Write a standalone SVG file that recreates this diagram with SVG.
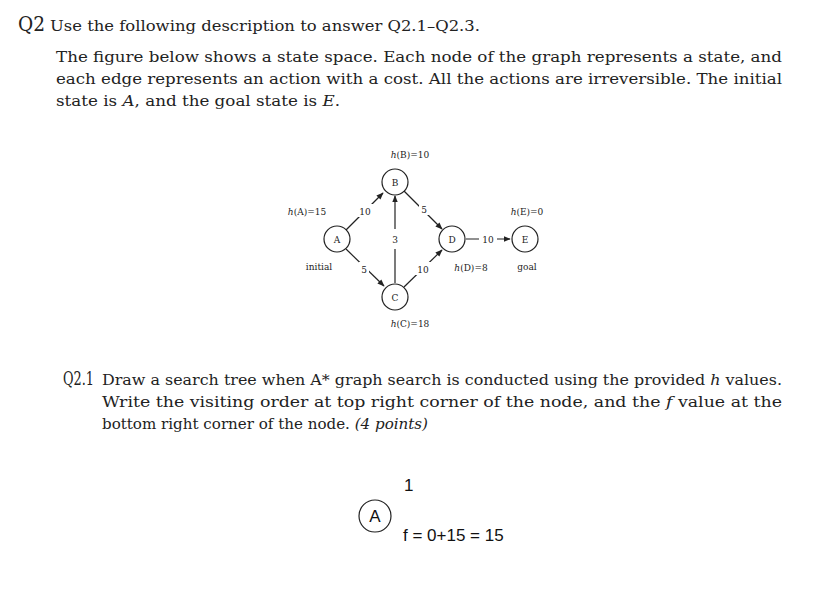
<svg xmlns="http://www.w3.org/2000/svg" width="837" height="593" viewBox="0 0 837 593">
<defs>
<marker id="ar" viewBox="0 0 10 10" refX="9" refY="5" markerWidth="6" markerHeight="6" orient="auto"><path d="M0,1 L10,5 L0,9 Z" fill="#222"/></marker>
<style>
.t{font-family:"DejaVu Serif",serif;font-size:15px;fill:#222}
.s{font-family:"DejaVu Serif",serif;font-size:9px;fill:#222}
.n{fill:none;stroke:#222;stroke-width:1.2}
.e{stroke:#222;stroke-width:1.2;fill:none}
.lb{fill:#fff}
.h{font-family:"Liberation Sans",sans-serif;font-size:17px;fill:#111}
</style>
</defs>
<rect width="837" height="593" fill="#fff"/>
<text x="18" y="31" class="t" style="font-size:20px" textLength="27" lengthAdjust="spacingAndGlyphs">Q2</text>
<text x="50" y="31" class="t" textLength="430" lengthAdjust="spacingAndGlyphs">Use the following description to answer Q2.1–Q2.3.</text>
<text x="56" y="62" class="t" textLength="726" lengthAdjust="spacingAndGlyphs">The figure below shows a state space.  Each node of the graph represents a state, and</text>
<text x="56" y="84" class="t" textLength="726" lengthAdjust="spacingAndGlyphs">each edge represents an action with a cost.  All the actions are irreversible.  The initial</text>
<text x="56" y="106" class="t" textLength="284" lengthAdjust="spacingAndGlyphs">state is <tspan font-style="italic">A</tspan>, and the goal state is <tspan font-style="italic">E</tspan>.</text>
<g id="connectors">
<line class="e" x1="346" y1="230" x2="383" y2="193" marker-end="url(#ar)"/>
<line class="e" x1="346" y1="249" x2="384" y2="286" marker-end="url(#ar)"/>
<line class="e" x1="395" y1="283" x2="395" y2="196" marker-end="url(#ar)"/>
<line class="e" x1="404" y1="191" x2="442" y2="229" marker-end="url(#ar)"/>
<line class="e" x1="404" y1="287" x2="442" y2="250" marker-end="url(#ar)"/>
<line class="e" x1="466" y1="239" x2="510" y2="239" marker-end="url(#ar)"/>
<rect class="lb" x="357" y="204" width="16" height="13"/><text x="365" y="215" class="s" text-anchor="middle">10</text>
<rect class="lb" x="359" y="262" width="10" height="13"/><text x="364" y="273" class="s" text-anchor="middle">5</text>
<rect class="lb" x="390" y="229" width="10" height="20"/><text x="395" y="243" class="s" text-anchor="middle">3</text>
<rect class="lb" x="419" y="202" width="10" height="13"/><text x="424" y="213" class="s" text-anchor="middle">5</text>
<rect class="lb" x="415" y="262" width="16" height="13"/><text x="423" y="273" class="s" text-anchor="middle">10</text>
<rect class="lb" x="479" y="232" width="18" height="13"/><text x="488" y="243" class="s" text-anchor="middle">10</text>
</g>
<g id="A"><circle class="n" cx="337" cy="239" r="13"/><text x="337" y="243" class="s" text-anchor="middle">A</text><text x="307" y="215" class="s" text-anchor="middle"><tspan font-style="italic">h</tspan>(A)=15</text><text x="319" y="270" class="s" text-anchor="middle">initial</text></g>
<g id="B"><circle class="n" cx="395" cy="182" r="13"/><text x="395" y="186" class="s" text-anchor="middle">B</text><text x="410" y="158" class="s" text-anchor="middle"><tspan font-style="italic">h</tspan>(B)=10</text></g>
<g id="C"><circle class="n" cx="395" cy="297" r="13"/><text x="395" y="301" class="s" text-anchor="middle">C</text><text x="410" y="327" class="s" text-anchor="middle"><tspan font-style="italic">h</tspan>(C)=18</text></g>
<g id="D"><circle class="n" cx="452" cy="239" r="13"/><text x="452" y="243" class="s" text-anchor="middle">D</text><text x="471" y="271" class="s" text-anchor="middle"><tspan font-style="italic">h</tspan>(D)=8</text></g>
<g id="E"><circle class="n" cx="525" cy="239" r="13"/><text x="525" y="243" class="s" text-anchor="middle">E</text><text x="527" y="215" class="s" text-anchor="middle"><tspan font-style="italic">h</tspan>(E)=0</text><text x="527" y="270" class="s" text-anchor="middle">goal</text></g>
<text x="63" y="385" class="t" style="font-size:19px" textLength="31" lengthAdjust="spacingAndGlyphs">Q2.1</text>
<text x="102" y="385" class="t" textLength="680" lengthAdjust="spacingAndGlyphs">Draw a search tree when A* graph search is conducted using the provided <tspan font-style="italic">h</tspan> values.</text>
<text x="102" y="407" class="t" textLength="680" lengthAdjust="spacingAndGlyphs">Write the visiting order at top right corner of the node, and the <tspan font-style="italic">f</tspan> value at the</text>
<text x="102" y="429" class="t" textLength="326" lengthAdjust="spacingAndGlyphs">bottom right corner of the node. <tspan font-style="italic">(4 points)</tspan></text>
<g id="treeA"><circle class="n" cx="375" cy="516" r="16"/><text x="375" y="522" class="h" text-anchor="middle">A</text><text x="404" y="491" class="h">1</text><text x="403" y="541" class="h">f = 0+15 = 15</text></g>
</svg>
